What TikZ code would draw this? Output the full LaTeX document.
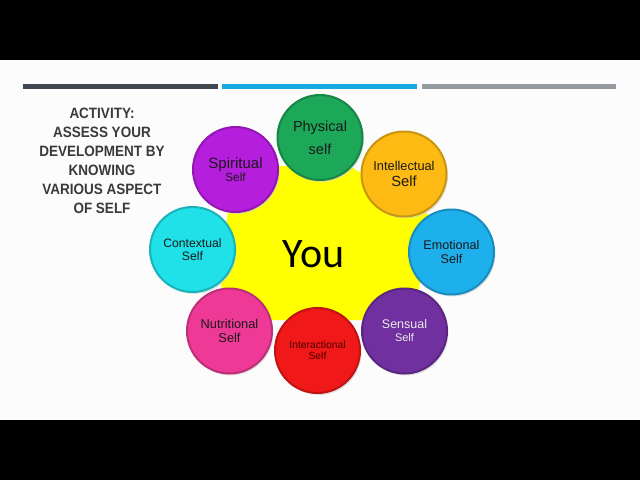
\documentclass[tikz,border=0pt]{standalone}
\usepackage{fontspec}
\setmainfont{Liberation Sans}
\newfontfamily\youfont{Carlito}
\newfontfamily\titlefont[FakeStretch=0.9]{Liberation Sans}
\definecolor{cPhys}{RGB}{28,168,88}
\definecolor{cInt}{RGB}{252,186,18}
\definecolor{cEmo}{RGB}{30,176,236}
\definecolor{cSen}{RGB}{112,48,160}
\definecolor{cInter}{RGB}{240,24,24}
\definecolor{cNut}{RGB}{238,58,150}
\definecolor{cCon}{RGB}{32,224,232}
\definecolor{cSpi}{RGB}{182,30,222}
\definecolor{cYel}{RGB}{255,255,0}
\definecolor{cTitle}{RGB}{58,58,58}
\definecolor{cBarA}{RGB}{64,70,80}
\definecolor{cBarB}{RGB}{22,170,225}
\definecolor{cBarC}{RGB}{150,155,162}
\definecolor{cTxt}{RGB}{25,25,25}
\tikzset{
  aspect/.style={circle, minimum size=85pt, inner sep=0pt, fill=#1, draw=#1!80!black, line width=2pt,
    align=center, text=cTxt, font=\fontsize{12.5}{13}\selectfont,
    preaction={fill=black!18, opacity=0.6, transform canvas={xshift=1.5pt, yshift=-2pt}}},
  titletext/.style={align=center, text=cTitle, font=\titlefont\bfseries\fontsize{15}{19}\selectfont},
  bar/.style={line width=4.5pt}
}
\begin{document}
\begin{tikzpicture}[x=1pt,y=-1pt]
\useasboundingbox (0,0) rectangle (640,480);
\fill[black] (0,0) rectangle (640,60);
\fill[black] (0,420) rectangle (640,480);
\fill[white!99!black] (0,60) rectangle (640,420);
% header bars
\draw[bar, cBarA] (23,86.5) -- (217.5,86.5);
\draw[bar, cBarB] (222,86.5) -- (417,86.5);
\draw[bar, cBarC] (421.5,86.5) -- (616,86.5);
% title
\node[titletext] (title) at (102,161) {ACTIVITY:\\ASSESS YOUR\\DEVELOPMENT BY\\KNOWING\\VARIOUS ASPECT\\OF SELF};
% yellow centre
\fill[cYel] (280,166) -- (353,168) -- (429,215) -- (419,289) -- (364,320) -- (272,320) -- (221,287) -- (228,208) -- cycle;
\node[font=\youfont\fontsize{42}{42}\selectfont, text=black] (you) at (313.5,254) {You};
% aspects
\node[aspect=cPhys, font=\fontsize{14.5}{23}\selectfont] (phys) at (320,137.5) {Physical\\self};
\node[aspect=cInt] (intel) at (404,174) {\fontsize{12.8}{15}\selectfont Intellectual\\[2.5pt]\fontsize{14.7}{17}\selectfont Self};
\node[aspect=cEmo, font=\fontsize{12.6}{14}\selectfont] (emo) at (451.5,252) {Emotional\\Self};
\node[aspect=cSen, text=white!92!black] (sens) at (404.5,331) {\fontsize{12.5}{13}\selectfont Sensual\\\fontsize{11}{13}\selectfont Self};
\node[aspect=cInter, text=black!70!red, font=\fontsize{10.3}{11.5}\selectfont] (inter) at (317.5,350.5) {Interactional\\Self};
\node[aspect=cNut, font=\fontsize{12.8}{14}\selectfont] (nutr) at (229.5,331) {Nutritional\\Self};
\node[aspect=cCon, font=\fontsize{12.2}{12.5}\selectfont] (cont) at (192.5,249.5) {Contextual\\Self};
\node[aspect=cSpi] (spir) at (235.5,169.5) {\fontsize{15}{14}\selectfont Spiritual\\\fontsize{11.8}{14}\selectfont Self};
\end{tikzpicture}
\end{document}
